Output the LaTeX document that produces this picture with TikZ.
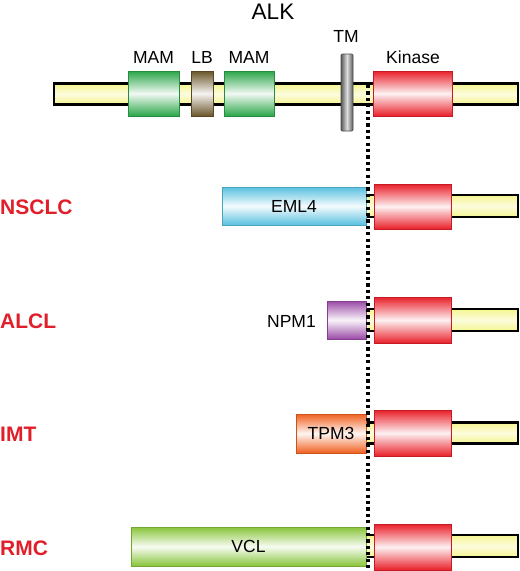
\documentclass[tikz,border=0pt]{standalone}
\usepackage{fontspec}
\setmainfont{Liberation Sans}
\definecolor{mamG}{HTML}{2AA548}
\definecolor{lbB}{HTML}{6A552A}
\definecolor{tmG}{HTML}{5A5A5A}
\definecolor{kinR}{HTML}{E8202A}
\definecolor{emlB}{HTML}{58C0E0}
\definecolor{npmP}{HTML}{9A4AA6}
\definecolor{tpmO}{HTML}{F06020}
\definecolor{vclG}{HTML}{88C43A}
\definecolor{barY}{HTML}{F5F590}
\definecolor{labR}{HTML}{E11F2A}
\begin{document}
\begin{tikzpicture}[x=1pt,y=-1pt,
  dom/.style={rectangle, inner sep=0pt, draw=#1!85!black, line width=0.6pt,
     top color=#1, bottom color=#1, middle color=#1!6!white},
  bar/.style={rectangle, inner sep=0pt, draw=black, line width=2.4pt,
     top color=barY, bottom color=barY, middle color=barY!30!white},
  lbl/.style={font=\fontsize{17.5}{20}\selectfont, inner sep=0pt},
  dis/.style={font=\fontsize{21}{23}\selectfont\bfseries, text=labR, inner sep=0pt, anchor=west},
  fuse/.style={draw=black, line width=3.6pt, dash pattern=on 3.2pt off 3.2pt}
]
\useasboundingbox (0,0) rectangle (520,571);

% ---- ALK wild type ----
\node[lbl, font=\fontsize{22.5}{25}\selectfont] (alk) at (273,12) {ALK};
\node[bar, minimum width=464pt, minimum height=21pt] (wt) at (286,94) {};
\node[dom=mamG, minimum width=51pt, minimum height=45pt] (mam1) at (153.5,93.5) {};
\node[dom=lbB, minimum width=22pt, minimum height=45pt] (lb) at (202,93.5) {};
\node[dom=mamG, minimum width=50pt, minimum height=45pt] (mam2) at (249,93.5) {};
\node[dom=tmG, minimum width=12pt, minimum height=77pt, rounded corners=1pt,
      left color=tmG, right color=tmG, middle color=tmG!20!white] (tm) at (347,92.5) {};
\node[dom=kinR, minimum width=79pt, minimum height=45pt] (kin0) at (412.5,93.5) {};
\node[lbl] (lmam1) at (153.5,57) {MAM};
\node[lbl] (llb) at (202,57) {LB};
\node[lbl] (lmam2) at (249,57) {MAM};
\node[lbl] (ltm) at (346,36) {TM};
\node[lbl] (lkin) at (413,57) {Kinase};

% ---- NSCLC ----
\node[bar, minimum width=152pt, minimum height=22pt] (t1) at (442,206) {};
\node[dom=emlB, minimum width=144pt, minimum height=38pt] (eml4) at (294,206) {};
\node[lbl] at (eml4.center) {EML4};
\node[dom=kinR, minimum width=77pt, minimum height=45pt] (kin1) at (412.5,206.5) {};
\node[dis] (nsclc) at (0,207) {NSCLC};

% ---- ALCL ----
\node[bar, minimum width=152pt, minimum height=22pt] (t2) at (442,320) {};
\node[dom=npmP, minimum width=39pt, minimum height=38pt] (npm1) at (346.5,320) {};
\node[lbl, anchor=east] (lnpm) at (316,321) {NPM1};
\node[dom=kinR, minimum width=77pt, minimum height=46pt] (kin2) at (412.5,320) {};
\node[dis] (alcl) at (0,321) {ALCL};

% ---- IMT ----
\node[bar, minimum width=152pt, minimum height=21pt] (t3) at (442,433) {};
\node[dom=tpmO, minimum width=70pt, minimum height=39pt] (tpm3) at (331,433.5) {};
\node[lbl] at (tpm3.center) {TPM3};
\node[dom=kinR, minimum width=77pt, minimum height=46pt] (kin3) at (412.5,433) {};
\node[dis] (imt) at (0,434) {IMT};

% ---- RMC ----
\node[bar, minimum width=152pt, minimum height=22pt] (t4) at (442,546) {};
\node[dom=vclG, minimum width=235pt, minimum height=39pt] (vcl) at (248.5,546.5) {};
\node[lbl] at (vcl.center) {VCL};
\node[dom=kinR, minimum width=77pt, minimum height=46pt] (kin4) at (412.5,547) {};
\node[dis] (rmc) at (0,548) {RMC};

% ---- breakpoint ----
\coordinate (bpt) at (368,85);
\coordinate (bpb) at (368,571);
\draw[fuse] (bpt) -- (bpb);
\end{tikzpicture}
\end{document}
